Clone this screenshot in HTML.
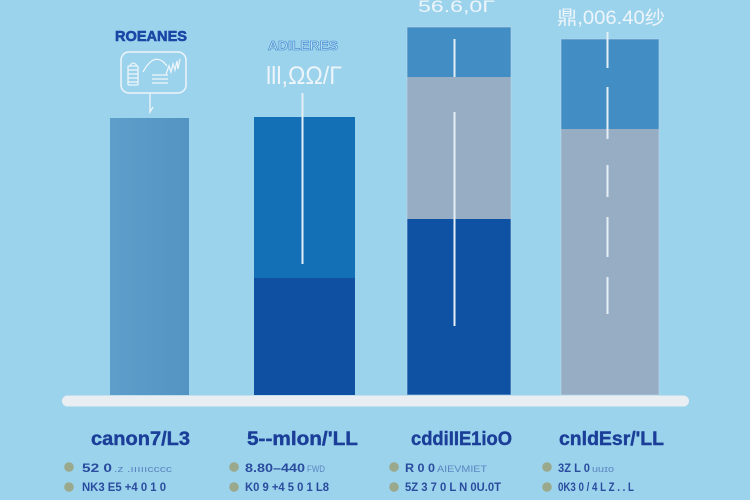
<!DOCTYPE html>
<html><head><meta charset="utf-8"><style>
html,body{margin:0;padding:0;background:#9bd3ec;}
svg{display:block;}
text{font-family:"Liberation Sans","Noto Sans CJK SC",sans-serif;}
</style></head><body>
<svg width="750" height="500" viewBox="0 0 750 500" xmlns="http://www.w3.org/2000/svg">
<defs>
<linearGradient id="g1" x1="0" x2="1" y1="0" y2="0"><stop offset="0" stop-color="#5e9ecb"/><stop offset="1" stop-color="#5394c3"/></linearGradient>
</defs>
<rect width="750" height="500" fill="#9bd3ec"/>

<!-- Bar 1 -->
<rect x="110" y="118" width="79" height="277" fill="url(#g1)"/>
<!-- Bar 2 -->
<rect x="254" y="117" width="101" height="161" fill="#1370b6"/>
<rect x="254" y="278" width="101" height="117" fill="#0f50a2"/>
<line x1="302.5" y1="93" x2="302.5" y2="264" stroke="#e4eef5" stroke-width="2"/>
<!-- Bar 3 -->
<rect x="407" y="27" width="104" height="50" fill="#428ec4"/>
<rect x="407" y="77" width="104" height="142" fill="#97adc4"/>
<rect x="407" y="219" width="104" height="176" fill="#0f52a4"/>
<rect x="407" y="27" width="104" height="368" fill="none" stroke="#b9d8ec" stroke-width="1" opacity="0.6"/>
<line x1="454.5" y1="39" x2="454.5" y2="77" stroke="#e4eef5" stroke-width="2"/>
<line x1="454.5" y1="112" x2="454.5" y2="326" stroke="#e4eef5" stroke-width="2"/>
<!-- Bar 4 -->
<rect x="561" y="39" width="98" height="90" fill="#428ec4"/>
<rect x="561" y="129" width="98" height="266" fill="#97adc4"/>
<rect x="561" y="39" width="98" height="356" fill="none" stroke="#b9d8ec" stroke-width="1" opacity="0.6"/>
<g stroke="#e4eef5" stroke-width="2">
<line x1="607.5" y1="32" x2="607.5" y2="68"/>
<line x1="607.5" y1="87" x2="607.5" y2="139"/>
<line x1="607.5" y1="165" x2="607.5" y2="197"/>
<line x1="607.5" y1="217" x2="607.5" y2="257"/>
<line x1="607.5" y1="277" x2="607.5" y2="314"/>
</g>

<!-- Baseline -->
<rect x="62" y="395.5" width="627" height="11" rx="5.5" fill="#e8eef1"/>

<!-- Top labels -->
<text x="115" y="41" font-size="15" font-weight="bold" fill="#1a47a6" stroke="#1a47a6" stroke-width="0.6" textLength="72" lengthAdjust="spacingAndGlyphs">ROEANES</text>
<rect x="121" y="52" width="65" height="41" rx="8" fill="none" stroke="#eef5fa" stroke-width="1.5"/>
<g stroke="#eef5fa" stroke-width="1.3" fill="none">
<rect x="128" y="66" width="10" height="19" rx="1"/>
<line x1="128" y1="70" x2="138" y2="70"/><line x1="128" y1="74" x2="138" y2="74"/><line x1="128" y1="78" x2="138" y2="78"/><line x1="128" y1="82" x2="138" y2="82"/>
<path d="M130 66 q3 -6 7 0"/>
<path d="M143 72 q12 -22 24 -6"/>
<line x1="152" y1="75" x2="168" y2="75"/><line x1="152" y1="79" x2="168" y2="79"/><line x1="152" y1="83" x2="168" y2="83"/>
<path d="M166 74 l3 -8 l2 6 l2 -8 l2 6 l2 -9 l1 8 l2 -10"/>
<path d="M150 93 v19 l3 -5"/>
</g>
<text x="268" y="50" font-size="13" font-weight="bold" fill="#b7def2" stroke="#3f86cf" stroke-width="0.6" textLength="70" lengthAdjust="spacingAndGlyphs">ADILERES</text>
<text x="266" y="84" font-size="25" fill="#eef5fa" textLength="76" lengthAdjust="spacingAndGlyphs">lll,ΩΩ/Γ</text>
<text x="418" y="12" font-size="17" fill="#eef5fa" textLength="77" lengthAdjust="spacingAndGlyphs">56.6,0Γ</text>
<text x="557" y="24" font-size="19" fill="#eef5fa" textLength="108" lengthAdjust="spacingAndGlyphs">鼎,006.40纱</text>

<!-- Bottom labels -->
<g font-size="19" font-weight="bold" fill="#1b3f99" stroke="#1b3f99" stroke-width="0.4">
<text x="91" y="445" textLength="99" lengthAdjust="spacingAndGlyphs">canon7/L3</text>
<text x="247" y="445" textLength="111" lengthAdjust="spacingAndGlyphs">5--mlon/'LL</text>
<text x="411" y="445" textLength="101" lengthAdjust="spacingAndGlyphs">cddiIIE1ioO</text>
<text x="559" y="445" textLength="105" lengthAdjust="spacingAndGlyphs">cnldEsr/'LL</text>
</g>

<!-- Legends -->
<g fill="#9aa88c">
<circle cx="69" cy="467" r="4.8"/><circle cx="69" cy="487" r="4.8"/>
<circle cx="234" cy="467" r="4.8"/><circle cx="234" cy="487" r="4.8"/>
<circle cx="394" cy="467" r="4.8"/><circle cx="394" cy="487" r="4.8"/>
<circle cx="547" cy="467" r="4.8"/><circle cx="547" cy="487" r="4.8"/>
</g>
<g font-size="12" font-weight="bold" fill="#2a4c9e">
<text x="82" y="472" textLength="30" lengthAdjust="spacingAndGlyphs">52 0</text>
<text x="114" y="472" font-size="9" font-weight="normal" fill="#5a86c0" textLength="58" lengthAdjust="spacingAndGlyphs">.z .ıııııcccc</text>
<text x="82" y="491" textLength="84" lengthAdjust="spacingAndGlyphs">NK3 E5 +4 0 1 0</text>

<text x="245" y="472" textLength="60" lengthAdjust="spacingAndGlyphs">8.80–440</text>
<text x="307" y="472" font-size="9" font-weight="normal" fill="#5a86c0" textLength="18" lengthAdjust="spacingAndGlyphs">FWD</text>
<text x="245" y="491" textLength="84" lengthAdjust="spacingAndGlyphs">K0 9 +4 5 0 1 L8</text>

<text x="405" y="472" textLength="30" lengthAdjust="spacingAndGlyphs">R 0 0</text>
<text x="437" y="472" font-size="9" font-weight="normal" fill="#5a86c0" textLength="50" lengthAdjust="spacingAndGlyphs">AIEVMIET</text>
<text x="405" y="491" textLength="96" lengthAdjust="spacingAndGlyphs">5Z 3 7 0 L N 0U.0T</text>

<text x="558" y="472" textLength="32" lengthAdjust="spacingAndGlyphs">3Z L 0</text>
<text x="592" y="472" font-size="9" font-weight="normal" fill="#5a86c0" textLength="22" lengthAdjust="spacingAndGlyphs">uuɪo</text>
<text x="558" y="491" textLength="76" lengthAdjust="spacingAndGlyphs">0K3 0 / 4 L Z . . L</text>
</g>
</svg>
</body></html>
